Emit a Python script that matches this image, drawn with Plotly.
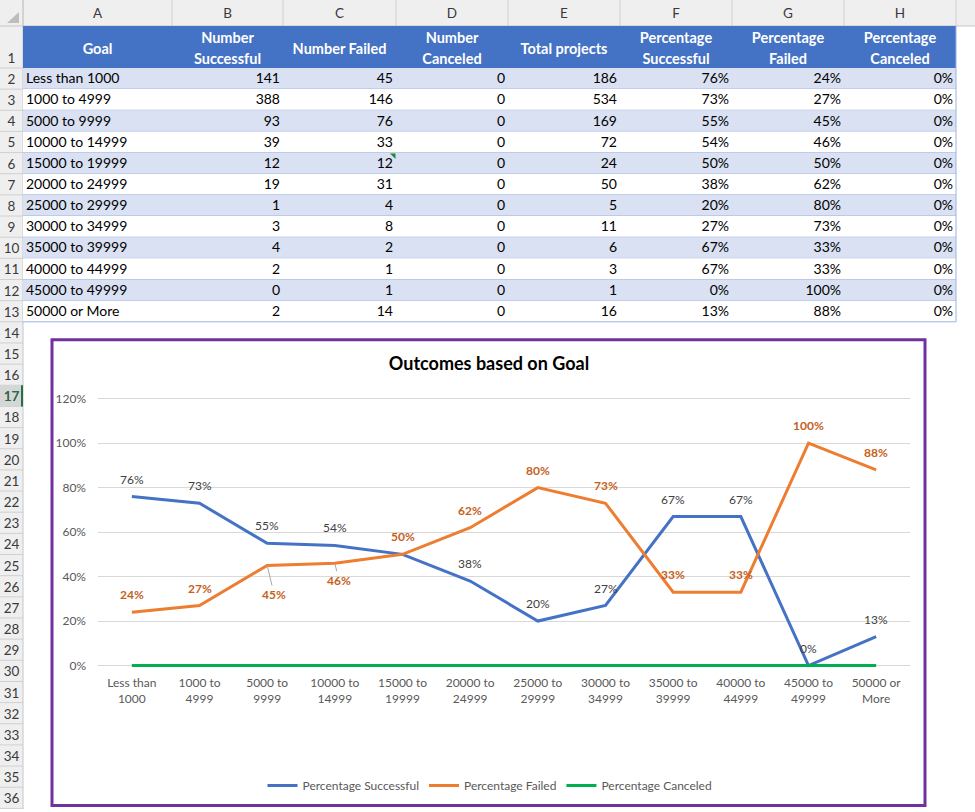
import plotly.graph_objects as go

# ---------------- data ----------------
goals = ["Less than 1000", "1000 to 4999", "5000 to 9999", "10000 to 14999",
         "15000 to 19999", "20000 to 24999", "25000 to 29999", "30000 to 34999",
         "35000 to 39999", "40000 to 44999", "45000 to 49999", "50000 or More"]
num_successful = [141, 388, 93, 39, 12, 19, 1, 3, 4, 2, 0, 2]
num_failed = [45, 146, 76, 33, 12, 31, 4, 8, 2, 1, 1, 14]
num_canceled = [0, 0, 0, 0, 0, 0, 0, 0, 0, 0, 0, 0]
total_projects = [186, 534, 169, 72, 24, 50, 5, 11, 6, 3, 1, 16]
pct_successful = [0.76, 0.73, 0.55, 0.54, 0.50, 0.38, 0.20, 0.27, 0.67, 0.67, 0.00, 0.13]
pct_failed = [0.24, 0.27, 0.45, 0.46, 0.50, 0.62, 0.80, 0.73, 0.33, 0.33, 1.00, 0.88]
pct_canceled = [0.0, 0.0, 0.0, 0.0, 0.0, 0.0, 0.0, 0.0, 0.0, 0.0, 0.0, 0.0]

header_titles = ["Goal", "Number<br>Successful", "Number Failed", "Number<br>Canceled",
                 "Total projects", "Percentage<br>Successful", "Percentage<br>Failed",
                 "Percentage<br>Canceled"]
column_letters = ["A", "B", "C", "D", "E", "F", "G", "H"]
chart_title = "Outcomes based on Goal"
series_names = ["Percentage Successful", "Percentage Failed", "Percentage Canceled"]
y_tick_values = [0, 0.2, 0.4, 0.6, 0.8, 1.0, 1.2]

# ---------------- layout constants (pixels) ----------------
W, H = 975, 812
K = 1.003  # small vertical calibration


def Y(v):
    return v * K


FONT = "Lato"
COL_EDGES = [23, 172, 283, 396, 508, 620, 732, 844, 956]
COLHDR_BOT = 26
HDR_BOT = 68
ROW_H = 21.17
N_ROWS = 36
ACTIVE_ROW = 17


def row_top(r):
    return Y(COLHDR_BOT if r == 1 else HDR_BOT + (r - 2) * ROW_H)


def row_bot(r):
    return Y(HDR_BOT + (r - 1) * ROW_H)


def row_mid(r):
    return (row_top(r) + row_bot(r)) / 2


fig = go.Figure()

# ---------------- chart series ----------------
series_colors = ["#4472C4", "#ED7D31", "#00B050"]
chart_labels = [g.rsplit(" ", 1)[0] + "<br>" + g.rsplit(" ", 1)[1] for g in goals]
for name, vals, col in zip(series_names, [pct_successful, pct_failed, pct_canceled], series_colors):
    fig.add_trace(go.Scatter(x=chart_labels, y=vals, name=name, mode="lines",
                             line=dict(color=col, width=3), hoverinfo="skip",
                             xaxis="x", yaxis="y"))

# ---------------- sheet shapes ----------------
shapes = []
S = dict(xref="x2", yref="y2")
HDR_BG = "#EFEFEF"
SEP = "#D0D0D0"
TBL_LINE = "#9DB3E0"
shapes.append(dict(type="rect", x0=0, x1=W, y0=0, y1=Y(COLHDR_BOT), fillcolor=HDR_BG, line=dict(width=0), layer="below", **S))
shapes.append(dict(type="rect", x0=0, x1=COL_EDGES[0], y0=0, y1=H, fillcolor=HDR_BG, line=dict(width=0), layer="below", **S))
shapes.append(dict(type="path", path="M 7 %.1f L 19 %.1f L 19 %.1f Z" % (Y(23), Y(23), Y(12)),
                   fillcolor="#BDBDBD", line=dict(width=0), layer="below", **S))
for x in COL_EDGES:
    shapes.append(dict(type="line", x0=x, x1=x, y0=0, y1=Y(COLHDR_BOT), line=dict(color=SEP, width=1), layer="below", **S))
shapes.append(dict(type="line", x0=0, x1=W, y0=Y(COLHDR_BOT), y1=Y(COLHDR_BOT), line=dict(color="#C6C6C6", width=1), layer="below", **S))
for r in range(1, N_ROWS + 2):
    shapes.append(dict(type="line", x0=0, x1=COL_EDGES[0], y0=row_bot(r), y1=row_bot(r), line=dict(color=SEP, width=1), layer="below", **S))
shapes.append(dict(type="line", x0=COL_EDGES[0], x1=COL_EDGES[0], y0=0, y1=H, line=dict(color="#C6C6C6", width=1), layer="below", **S))
shapes.append(dict(type="rect", x0=0, x1=COL_EDGES[0], y0=row_top(ACTIVE_ROW), y1=row_bot(ACTIVE_ROW), fillcolor="#D6D6D6", line=dict(width=0), layer="below", **S))
shapes.append(dict(type="line", x0=COL_EDGES[0] - 1, x1=COL_EDGES[0] - 1, y0=row_top(ACTIVE_ROW), y1=row_bot(ACTIVE_ROW), line=dict(color="#217346", width=2), layer="below", **S))
shapes.append(dict(type="rect", x0=COL_EDGES[0], x1=COL_EDGES[-1], y0=Y(COLHDR_BOT), y1=Y(HDR_BOT), fillcolor="#4472C4", line=dict(width=0), layer="below", **S))
for i in range(len(goals)):
    r = i + 2
    fill = "#D9E1F2" if i % 2 == 0 else "#FFFFFF"
    shapes.append(dict(type="rect", x0=COL_EDGES[0], x1=COL_EDGES[-1], y0=row_top(r), y1=row_bot(r), fillcolor=fill, line=dict(width=0), layer="below", **S))
    shapes.append(dict(type="line", x0=COL_EDGES[0], x1=COL_EDGES[-1], y0=row_bot(r), y1=row_bot(r), line=dict(color=TBL_LINE, width=1), layer="below", **S))
shapes.append(dict(type="line", x0=COL_EDGES[-1], x1=COL_EDGES[-1], y0=Y(COLHDR_BOT), y1=row_bot(len(goals) + 1), line=dict(color=TBL_LINE, width=1), layer="below", **S))
shapes.append(dict(type="path", path="M 390 %.1f L 395.5 %.1f L 395.5 %.1f Z" % (row_top(6) + 1, row_top(6) + 1, row_top(6) + 6.5),
                   fillcolor="#1E8A3A", line=dict(width=0), layer="above", **S))
# chart border
shapes.append(dict(type="rect", x0=52, x1=925, y0=Y(340), y1=Y(806), fillcolor="rgba(0,0,0,0)", line=dict(color="#7030A0", width=3), layer="above", **S))


# ---------------- sheet texts ----------------
def text_trace(xs, ys, texts, pos, size=14, color="#000000", weight="normal"):
    fig.add_trace(go.Scatter(x=xs, y=ys, text=texts, mode="text", textposition=pos,
                             textfont=dict(family=FONT, size=size, color=color, weight=weight),
                             hoverinfo="skip", showlegend=False, cliponaxis=False,
                             xaxis="x2", yaxis="y2"))


col_centers = [(COL_EDGES[k] + COL_EDGES[k + 1]) / 2 for k in range(len(column_letters))]
text_trace(col_centers, [Y(15)] * len(column_letters), column_letters, "middle center", size=13.5, color="#3A3A3A")
row_nums = list(range(1, N_ROWS + 1))
text_trace([11.5] * N_ROWS, [row_bot(r) - 8.5 for r in row_nums], [str(r) for r in row_nums],
           "middle center", size=13.5, color="#3A3A3A")
text_trace([11.5], [row_bot(ACTIVE_ROW) - 8.5], [str(ACTIVE_ROW)], "middle center", size=13.5, color="#217346")

hx, hy, ht = [], [], []
for k, title in enumerate(header_titles):
    parts = title.split("<br>")
    if len(parts) == 1:
        hx.append(col_centers[k]); hy.append(Y(50)); ht.append(parts[0])
    else:
        hx += [col_centers[k]] * 2; hy += [Y(39.5), Y(60.5)]; ht += parts
text_trace(hx, hy, ht, "middle center", size=14.5, color="#FFFFFF", weight="bold")

rows_y = [row_mid(i + 2) + 1.2 for i in range(len(goals))]
text_trace([COL_EDGES[0] + 3] * len(goals), rows_y, goals, "middle right")
table_cols = [
    [str(v) for v in num_successful],
    [str(v) for v in num_failed],
    [str(v) for v in num_canceled],
    [str(v) for v in total_projects],
    ["%d%%" % round(v * 100) for v in pct_successful],
    ["%d%%" % round(v * 100) for v in pct_failed],
    ["%d%%" % round(v * 100) for v in pct_canceled],
]
for k, vals in enumerate(table_cols):
    text_trace([COL_EDGES[k + 2] - 3] * len(vals), rows_y, vals, "middle left")

# ---------------- data labels ----------------
annotations = []
hidden_success_labels = [4]
leader_failed_labels = {2: (7, 29), 3: (4, 17)}
for i, v in enumerate(pct_successful):
    if i in hidden_success_labels:
        continue
    annotations.append(dict(x=i, y=v, xref="x", yref="y", text="%d%%" % round(v * 100),
                            showarrow=False, yshift=17.5,
                            font=dict(family=FONT, size=12, color="#404040")))
for i, v in enumerate(pct_failed):
    a = dict(x=i, y=v, xref="x", yref="y", text="%d%%" % round(v * 100),
             font=dict(family=FONT, size=12, color="#C65F22", weight="bold"))
    if i in leader_failed_labels:
        ax, ay = leader_failed_labels[i]
        a.update(showarrow=True, ax=ax, ay=ay, arrowhead=0, arrowwidth=1,
                 arrowcolor="#A6A6A6", standoff=0)
    else:
        a.update(showarrow=False, yshift=17.5)
    annotations.append(a)

# ---------------- layout ----------------
zero_px = Y(666)
top_grid_px = Y(399)
px_per_unit = (zero_px - top_grid_px) / 1.2
y_lo, y_hi = -0.02, 1.25
bot_px = zero_px + (0 - y_lo) * px_per_unit
top_px = top_grid_px - (y_hi - 1.2) * px_per_unit

fig.update_layout(
    width=W, height=H, autosize=False,
    margin=dict(l=0, r=0, t=0, b=0),
    paper_bgcolor="#FFFFFF", plot_bgcolor="rgba(0,0,0,0)",
    font=dict(family=FONT, size=12, color="#595959"),
    title=dict(text=chart_title, x=489 / W, xanchor="center", xref="paper",
               y=1 - Y(364) / H, yanchor="middle", yref="paper",
               font=dict(family=FONT, size=18, color="#000000", weight="bold")),
    xaxis=dict(domain=[98 / W, 910 / W], anchor="y", type="category",
               range=[-0.5, len(goals) - 0.5], showgrid=False, zeroline=False,
               showline=False, ticks="", tickfont=dict(family=FONT, size=12, color="#595959"),
               ticklabelstandoff=4, fixedrange=True),
    yaxis=dict(domain=[(H - bot_px) / H, (H - top_px) / H], anchor="x",
               range=[y_lo, y_hi], tickvals=y_tick_values, tickformat=".0%",
               showgrid=True, gridcolor="#D9D9D9", gridwidth=1,
               zeroline=True, zerolinecolor="#D9D9D9", zerolinewidth=1,
               showline=False, ticks="", tickfont=dict(family=FONT, size=12, color="#595959"),
               ticklabelstandoff=11, fixedrange=True),
    xaxis2=dict(domain=[0, 1], anchor="y2", range=[0, W], visible=False, fixedrange=True),
    yaxis2=dict(domain=[0, 1], anchor="x2", range=[H, 0], visible=False, fixedrange=True),
    legend=dict(orientation="h", x=490 / W, xanchor="center", y=1 - Y(786) / H, yanchor="middle",
                font=dict(family=FONT, size=12, color="#595959"), bgcolor="rgba(0,0,0,0)",
                itemwidth=30),
    shapes=shapes,
    annotations=annotations,
    showlegend=True,
)

fig.write_html("out.html", config={"displayModeBar": False},
               post_script="document.body.style.margin='0px';")
